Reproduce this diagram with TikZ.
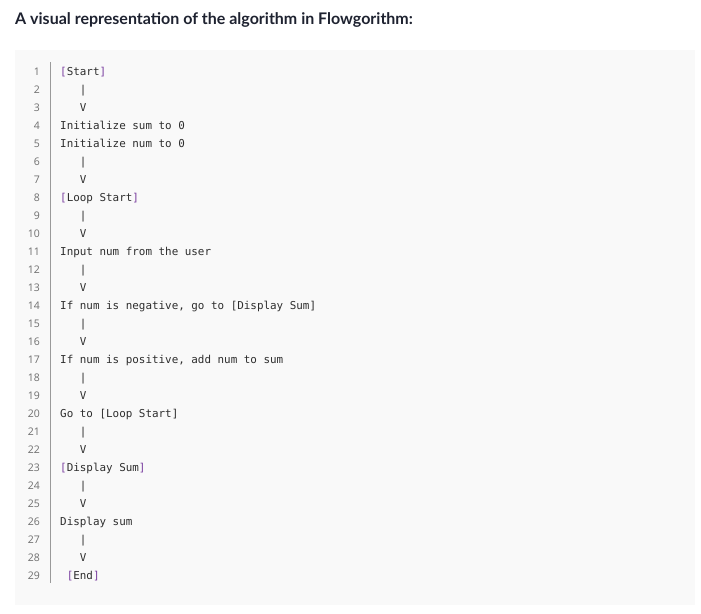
\documentclass[tikz,border=0pt]{standalone}
\usepackage{fontspec}
\setmainfont{Lato}
\newfontfamily\codefont{DejaVu Sans Mono}
\newfontfamily\numfont{Open Sans}
\definecolor{codebg}{HTML}{F9F9F9}
\definecolor{codetext}{HTML}{2E2E2E}
\definecolor{numtext}{HTML}{6E6E6E}
\definecolor{rulegray}{HTML}{9A9A9A}
\definecolor{brk}{HTML}{7A3FA0}
\definecolor{titletext}{HTML}{1E2230}
\newcommand{\bk}[1]{\textcolor{brk}{[}#1\textcolor{brk}{]}}
\newcommand{\ind}[1]{\hphantom{#1}}
\tikzset{
  codeline/.style={anchor=base west, inner sep=0pt, text=codetext, font=\codefont\fontsize{10.9}{13}\selectfont},
  numline/.style={anchor=base east, inner sep=0pt, text=numtext, font=\numfont\fontsize{10.5}{13}\selectfont},
  titlestyle/.style={anchor=base west, inner sep=0pt, text=titletext, font=\bfseries\fontsize{16}{19}\selectfont}
}
\begin{document}
\begin{tikzpicture}[x=1pt,y=-1pt]
\useasboundingbox (0,0) rectangle (701,613);
\fill[white] (0,0) rectangle (701,613);
\fill[codebg] (15,50) rectangle (695,605);
\node[titlestyle] (title) at (15,24) {A visual representation of the algorithm in Flowgorithm:};
\draw[rulegray, line width=1pt] (50,62) coordinate (rtop) -- (50,583) coordinate (rbot);
\foreach \k in {1,...,29} {
  \node[numline] (ln\k) at (40,{75+18*(\k-1)}) {\k};
}
\newcommand{\cl}[2]{\node[codeline] (code#1) at (60,{75+18*(#1-1)}) {#2};}
\cl{1}{\bk{Start}}
\cl{2}{\ind{000}|}
\cl{3}{\ind{000}V}
\cl{4}{Initialize sum to 0}
\cl{5}{Initialize num to 0}
\cl{6}{\ind{000}|}
\cl{7}{\ind{000}V}
\cl{8}{\bk{Loop Start}}
\cl{9}{\ind{000}|}
\cl{10}{\ind{000}V}
\cl{11}{Input num from the user}
\cl{12}{\ind{000}|}
\cl{13}{\ind{000}V}
\cl{14}{If num is negative, go to [Display Sum]}
\cl{15}{\ind{000}|}
\cl{16}{\ind{000}V}
\cl{17}{If num is positive, add num to sum}
\cl{18}{\ind{000}|}
\cl{19}{\ind{000}V}
\cl{20}{Go to [Loop Start]}
\cl{21}{\ind{000}|}
\cl{22}{\ind{000}V}
\cl{23}{\bk{Display Sum}}
\cl{24}{\ind{000}|}
\cl{25}{\ind{000}V}
\cl{26}{Display sum}
\cl{27}{\ind{000}|}
\cl{28}{\ind{000}V}
\cl{29}{\ind{0}\bk{End}}
\end{tikzpicture}
\end{document}
